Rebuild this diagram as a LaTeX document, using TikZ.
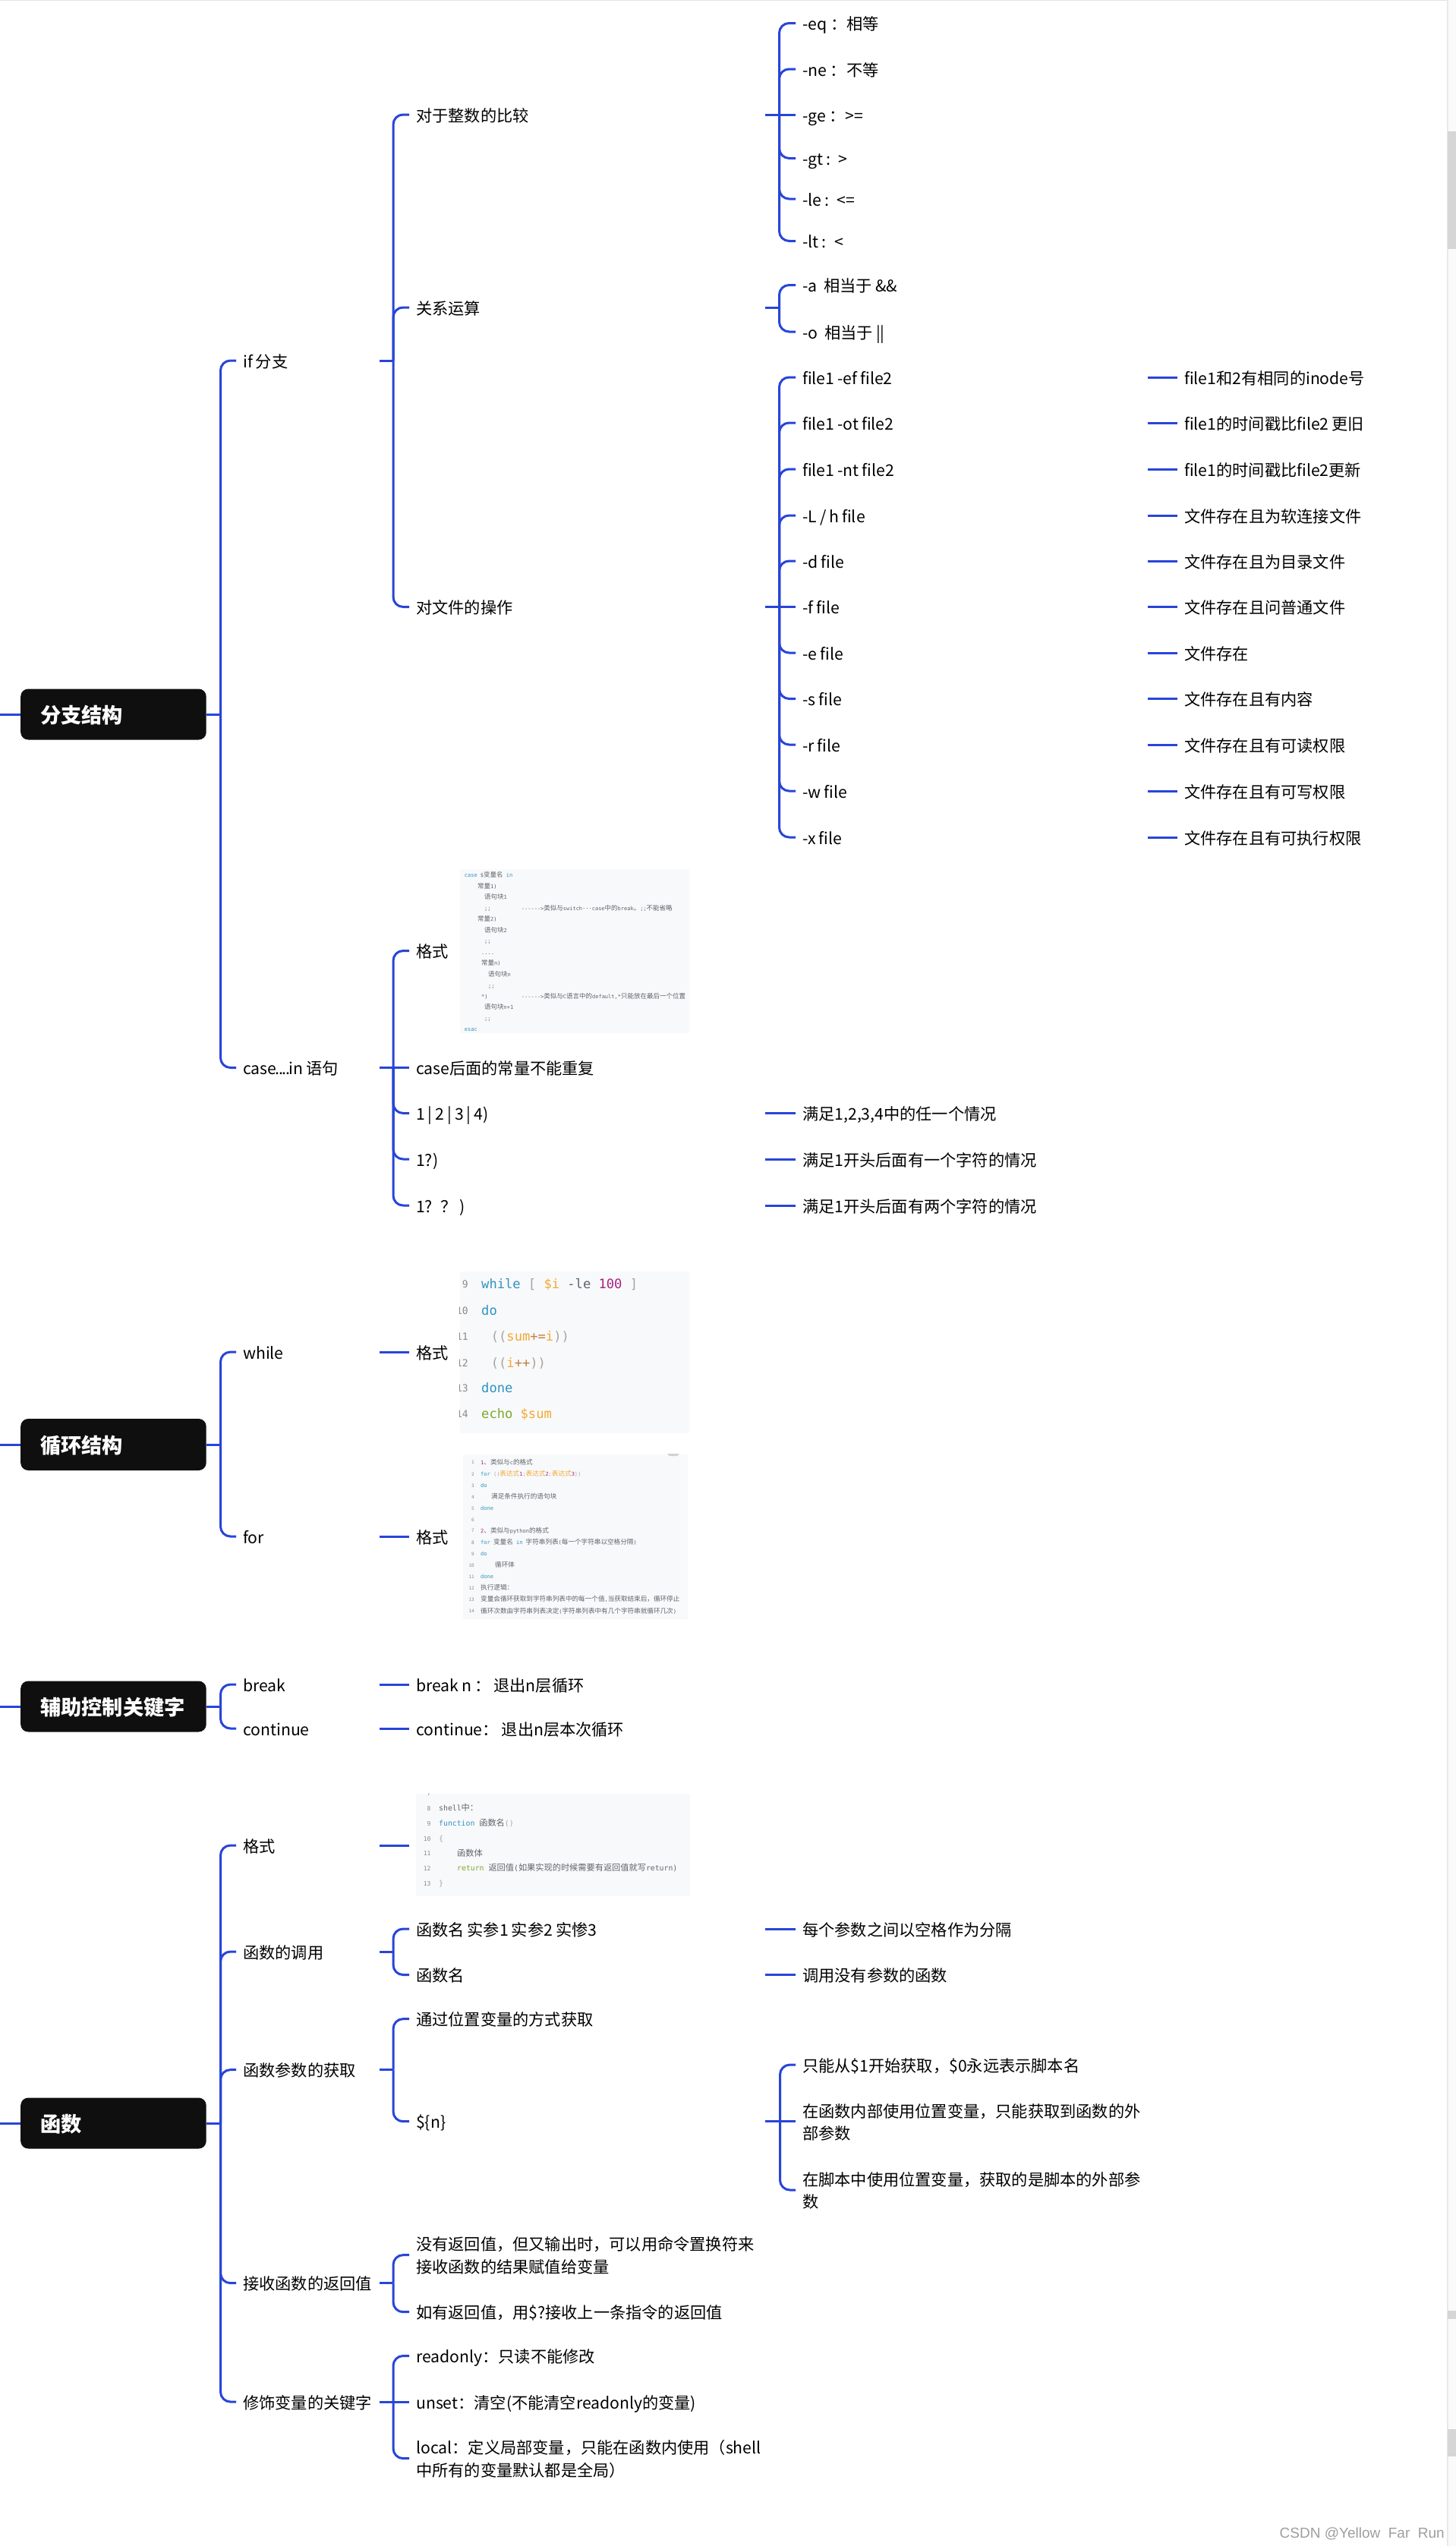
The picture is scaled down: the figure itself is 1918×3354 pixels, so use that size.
\documentclass[tikz,border=0pt]{standalone}
\usepackage{fontspec}
\setmainfont{Noto Sans CJK SC}
\newfontfamily\monoF{DejaVu Sans Mono}
\newfontfamily\cjkF{Noto Sans CJK SC}
\newfontfamily\wmF{Liberation Sans}
\definecolor{bluec}{HTML}{2845D8}
\definecolor{rootc}{HTML}{0F0F0F}
\definecolor{boxc}{HTML}{F8F9FB}
\definecolor{kwc}{HTML}{2E93BE}
\definecolor{orgc}{HTML}{F5A830}
\definecolor{magc}{HTML}{A8207F}
\definecolor{grnc}{HTML}{7FA82C}
\definecolor{grc}{HTML}{5F6468}
\definecolor{brc}{HTML}{A9A49C}
\definecolor{numc}{HTML}{868A8E}
\newcount\clc
\def\csz{8.5}
\newcommand\zh[1]{{\cjkF\fontsize{\csz}{\csz}\selectfont #1}}
\newcommand\kw[1]{\textcolor{kwc}{#1}}
\newcommand\org[1]{\textcolor{orgc}{#1}}
\newcommand\mgt[1]{\textcolor{magc}{#1}}
\newcommand\grn[1]{\textcolor{grnc}{#1}}
\newcommand\brk[1]{\textcolor{brc}{#1}}
\newcommand\cl[4]{\global\advance\clc by 1 \node[#1] (code\the\clc) at (#2,#3) {#4};}
\newcommand\twol[2]{\leavevmode\rlap{\raisebox{14.8pt}{#1}}\rlap{\raisebox{-14.8pt}{#2}}}
\newcommand\fan[3]{%
  \coordinate (hub-#1) at (#2,0 |- #1.east);
  \draw[conn] (#1.east) -- (hub-#1);
  \foreach \k in {#3} {\draw[conn,rounded corners=13pt] (hub-#1) |- (\k.west);}
}
\newcommand\thru[2]{\draw[conn] (hub-#1) -- (hub-#1 -| #2.west);}
\tikzset{
  conn/.style={draw=bluec,line width=3pt},
  lbl/.style={anchor=west,inner ysep=0pt,inner xsep=9pt,text height=19pt,text depth=1pt,
    align=left,text width=#1,font=\fontsize{21.2}{29.6}\selectfont,text=black,
    execute at begin node={\spaceskip=4pt\relax}},
  colA/.style={lbl=171pt},
  colB/.style={lbl=451pt},
  colC/.style={lbl=446pt},
  colD/.style={lbl=300pt},
  rootbox/.style={anchor=west,fill=rootc,rounded corners=10pt,inner ysep=0pt,inner xsep=26pt,
    text width=192.5pt,align=left,text=white,text height=23pt,text depth=1pt,
    minimum height=#1,font=\fontsize{27.2}{30}\selectfont\bfseries},
  imgbox/.style={fill=boxc,inner sep=0pt,anchor=center},
  codeS/.style={anchor=west,inner sep=0pt,text height=6pt,text depth=2pt,text=grc,font=\monoF\fontsize{7}{9}\selectfont},
  codeM/.style={anchor=west,inner sep=0pt,text height=8pt,text depth=3pt,text=grc,font=\monoF\fontsize{9.8}{12}\selectfont},
  codeL/.style={anchor=west,inner sep=0pt,text height=13pt,text depth=4pt,text=grc,font=\monoF\fontsize{17.1}{20}\selectfont},
  numS/.style={anchor=east,inner sep=0pt,text height=4pt,text depth=1pt,text=numc,font=\monoF\fontsize{6}{7}\selectfont},
  numM/.style={anchor=east,inner sep=0pt,text height=6pt,text depth=2pt,text=numc,font=\monoF\fontsize{8}{9}\selectfont},
  numL/.style={anchor=east,inner sep=0pt,text height=9pt,text depth=2pt,text=numc,font=\monoF\fontsize{13}{14}\selectfont},
}
\begin{document}
\begin{tikzpicture}[x=1pt,y=-1pt]
\useasboundingbox (0,0) rectangle (1918,3354);
\fill[white] (0,0) rectangle (1918,3354);
% window furniture
\fill[gray!22] (0,0) rectangle (1918,1.2);
\fill[black!2] (1907,0) rectangle (1918,3354);
\fill[black!9] (1906,0) rectangle (1907.5,3354);
\fill[black!16] (1907,173) rectangle (1918,328);
\fill[black!16] (1907,3044) rectangle (1918,3055);
\fill[black!16] (1907,3200) rectangle (1918,3236);

% roots
\node[rootbox=67pt] (rBranch) at (27,941) {分支结构};
\node[rootbox=68pt] (rLoop) at (27,1903) {循环结构};
\node[rootbox=67pt] (rCtl) at (27,2248) {辅助控制关键字};
\node[rootbox=67pt] (rFunc) at (27,2797) {函数};
\coordinate (l1) at (0,941);
\coordinate (l2) at (0,1903);
\coordinate (l3) at (0,2248);
\coordinate (l4) at (0,2797);
\draw[conn] (l1) -- (rBranch.west);
\draw[conn] (l2) -- (rLoop.west);
\draw[conn] (l3) -- (rCtl.west);
\draw[conn] (l4) -- (rFunc.west);

% branch structure, level A
\node[colA] (ifb) at (311,475) {if 分支};
\node[colA] (caseb) at (311,1406.5) {case\kern-1.5pt.\kern-1.5pt.\kern-1.5pt.\kern-1.5pt.\kern-1.5pt in 语句};
\fan{rBranch}{290.5}{ifb,caseb}
% level B under if
\node[colB] (intcmp) at (539,151) {对于整数的比较};
\node[colB] (relop) at (539,405) {关系运算};
\node[colB] (fileop) at (539,799.5) {对文件的操作};
\fan{ifb}{518}{intcmp,relop,fileop}
% integer comparisons
\node[colC] (eq) at (1048,30.5) {-eq\hspace{4.75pt}：相等};
\node[colC] (ne) at (1048,91) {-ne\hspace{4.75pt}：不等};
\node[colC] (ge) at (1048,151) {-ge\hspace{4.75pt}：>=};
\node[colC] (gt) at (1048,208.5) {-gt : >};
\node[colC] (le) at (1048,262) {-le : <=};
\node[colC] (lt) at (1048,317.5) {-lt : <};
\fan{intcmp}{1026.5}{eq,ne,gt,le,lt}
\thru{intcmp}{ge}
% relation
\node[colC] (opa) at (1048,375.5) {-a\hspace{9pt}相当于 \&\&};
\node[colC] (opo) at (1048,437) {-o\hspace{9pt}相当于 ||};
\fan{relop}{1026.5}{opa,opo}
% file tests
\node[colC] (f1) at (1048,497) {file1 -ef file2};
\node[colC] (f2) at (1048,557) {file1 -ot file2};
\node[colC] (f3) at (1048,618) {file1 -nt file2};
\node[colC] (f4) at (1048,679) {-L / h file};
\node[colC] (f5) at (1048,739) {-d file};
\node[colC] (f6) at (1048,799.5) {-f file};
\node[colC] (f7) at (1048,860) {-e file};
\node[colC] (f8) at (1048,920.5) {-s file};
\node[colC] (f9) at (1048,981) {-r file};
\node[colC] (f10) at (1048,1042) {-w file};
\node[colC] (f11) at (1048,1103) {-x file};
\fan{fileop}{1026.5}{f1,f2,f3,f4,f5,f7,f8,f9,f10,f11}
\thru{fileop}{f6}
\node[colD] (d1) at (1551,497) {file1和2有相同的inode号};
\node[colD] (d2) at (1551,557) {file1的时间戳比file2 更旧};
\node[colD] (d3) at (1551,618) {file1的时间戳比file2更新};
\node[colD] (d4) at (1551,679) {文件存在且为软连接文件};
\node[colD] (d5) at (1551,739) {文件存在且为目录文件};
\node[colD] (d6) at (1551,799.5) {文件存在且问普通文件};
\node[colD] (d7) at (1551,860) {文件存在};
\node[colD] (d8) at (1551,920.5) {文件存在且有内容};
\node[colD] (d9) at (1551,981) {文件存在且有可读权限};
\node[colD] (d10) at (1551,1042) {文件存在且有可写权限};
\node[colD] (d11) at (1551,1103) {文件存在且有可执行权限};
\foreach \i in {1,...,11} {\draw[conn] (f\i.east) -- (d\i.west);}

% case
\node[lbl=48pt] (casefmt) at (539,1252.5) {格式};
\node[colB] (case2) at (539,1406.5) {case后面的常量不能重复};
\node[colB] (case3) at (539,1466.5) {1 | 2 | 3 | 4)};
\node[colB] (case4) at (539,1527) {1?)};
\node[colB] (case5) at (539,1588) {1? ？ )};
\fan{caseb}{518}{casefmt,case3,case4,case5}
\thru{caseb}{case2}
\node[colC] (cr3) at (1048,1466.5) {满足1,2,3,4中的任一个情况};
\node[colC] (cr4) at (1048,1527) {满足1开头后面有一个字符的情况};
\node[colC] (cr5) at (1048,1588) {满足1开头后面有两个字符的情况};
\draw[conn] (case3.east) -- (cr3.west);
\draw[conn] (case4.east) -- (cr4.west);
\draw[conn] (case5.east) -- (cr5.west);

\node[imgbox,minimum width=302pt,minimum height=216pt] (img1) at (757,1253) {};
\def\csz{8.5}
\cl{codeS}{611.7}{1153.3}{\kw{case} \$\zh{变量名} \kw{in}}
\cl{codeS}{629}{1168}{\zh{常量}1)}
\cl{codeS}{638}{1182.7}{\zh{语句块}1}
\cl{codeS}{638}{1197}{;;}
\cl{codeS}{686.7}{1197}{------>\zh{类似与}switch···case\zh{中的}break\zh{。};;\zh{不能省略}}
\cl{codeS}{629}{1211.3}{\zh{常量}2)}
\cl{codeS}{638}{1226}{\zh{语句块}2}
\cl{codeS}{638}{1240.7}{;;}
\cl{codeS}{634}{1255}{....}
\cl{codeS}{634}{1269.3}{\zh{常量}n)}
\cl{codeS}{643}{1284}{\zh{语句块}n}
\cl{codeS}{643}{1299}{;;}
\cl{codeS}{634}{1313}{*)}
\cl{codeS}{686.7}{1313}{------>\zh{类似与}C\zh{语言中的}default,*\zh{只能放在最后一个位置}}
\cl{codeS}{638}{1327.3}{\zh{语句块}n+1}
\cl{codeS}{638}{1342.7}{;;}
\cl{codeS}{611.7}{1356.3}{\kw{esac}}

% loops
\node[colA] (whl) at (311,1781) {while};
\node[colA] (forl) at (311,2024) {for};
\fan{rLoop}{290.5}{whl,forl}
\node[lbl=48pt] (whlfmt) at (539,1781) {格式};
\node[lbl=48pt] (forfmt) at (539,2024) {格式};
\draw[conn] (whl.east) -- (whlfmt.west);
\draw[conn] (forl.east) -- (forfmt.west);

\node[imgbox,minimum width=302pt,minimum height=213pt] (img2) at (757,1781.5) {};
\begin{scope}
\clip (img2.south west) rectangle (img2.north east);
\cl{numL}{617}{1693}{9}
\cl{numL}{617}{1728}{10}
\cl{numL}{617}{1762}{11}
\cl{numL}{617}{1797}{12}
\cl{numL}{617}{1830}{13}
\cl{numL}{617}{1864}{14}
\end{scope}
\cl{codeL}{634}{1693}{\kw{while} \brk{[} \org{\$i} -le \mgt{100} \brk{]}}
\cl{codeL}{634}{1728}{\kw{do}}
\cl{codeL}{646.7}{1762}{\brk{((}\org{sum}\textcolor{brown}{+=}\org{i}\brk{))}}
\cl{codeL}{646.7}{1797}{\brk{((}\org{i}\textcolor{brown}{++}\brk{))}}
\cl{codeL}{634}{1830}{\kw{done}}
\cl{codeL}{634}{1864}{\grn{echo} \org{\$sum}}

\node[imgbox,minimum width=296pt,minimum height=217pt] (img3) at (758,2024.5) {};
\begin{scope}
\clip (img3.south west) rectangle (img3.north east);
\fill[black!18,rounded corners=4pt] (879,1908) rectangle (895,1918);
\end{scope}
\def\csz{8.6}
\cl{numS}{625}{1927.3}{1}
\cl{numS}{625}{1942.7}{2}
\cl{numS}{625}{1957.7}{3}
\cl{numS}{625}{1972.7}{4}
\cl{numS}{625}{1987.7}{5}
\cl{numS}{625}{2002.7}{6}
\cl{numS}{625}{2017.3}{7}
\cl{numS}{625}{2032.7}{8}
\cl{numS}{625}{2047.7}{9}
\cl{numS}{625}{2062.7}{10}
\cl{numS}{625}{2077.7}{11}
\cl{numS}{625}{2092.7}{12}
\cl{numS}{625}{2107.7}{13}
\cl{numS}{625}{2123}{14}
\cl{codeS}{633}{1927.3}{\mgt{1}\zh{、类似与}c\zh{的格式}}
\cl{codeS}{633}{1942.7}{\kw{for} \brk{((}\org{\zh{表达式}}\mgt{1}\brk{;}\org{\zh{表达式}}\mgt{2}\brk{;}\org{\zh{表达式}}\mgt{3}\brk{))}}
\cl{codeS}{633}{1957.7}{\kw{do}}
\cl{codeS}{647}{1972.7}{\zh{满足条件执行的语句块}}
\cl{codeS}{633}{1987.7}{\kw{done}}
\cl{codeS}{633}{2017.3}{\mgt{2}\zh{、类似与}python\zh{的格式}}
\cl{codeS}{633}{2032.7}{\kw{for} \zh{变量名} \kw{in} \zh{字符串列表}(\zh{每一个字符串以空格分隔})}
\cl{codeS}{633}{2047.7}{\kw{do}}
\cl{codeS}{652}{2062.7}{\zh{循环体}}
\cl{codeS}{633}{2077.7}{\kw{done}}
\cl{codeS}{633}{2092.7}{\zh{执行逻辑：}}
\cl{codeS}{633}{2107.7}{\zh{变量会循环获取到字符串列表中的每一个值},\zh{当获取结束后，循环停止}}
\cl{codeS}{633}{2123}{\zh{循环次数由字符串列表决定}(\zh{字符串列表中有几个字符串就循环几次})}

% control keywords
\node[colA] (brk) at (311,2219) {break};
\node[colA] (cont) at (311,2277) {continue};
\fan{rCtl}{290.5}{brk,cont}
\node[colB] (brkd) at (539,2219) {break n ： 退出n层循环};
\node[colB] (contd) at (539,2277) {continue： 退出n层本次循环};
\draw[conn] (brk.east) -- (brkd.west);
\draw[conn] (cont.east) -- (contd.west);

% functions
\node[colA] (ffmt) at (311,2431) {格式};
\node[colA] (fcall) at (311,2571) {函数的调用};
\node[colA] (fparam) at (311,2726.6) {函数参数的获取};
\node[colA] (fret) at (311,3007.6) {接收函数的返回值};
\node[colA] (fmod) at (311,3164) {修饰变量的关键字};
\fan{rFunc}{290.5}{ffmt,fcall,fparam,fret,fmod}

\node[imgbox,minimum width=361pt,minimum height=135pt] (img4) at (728.5,2430.5) {};
\draw[conn,shorten >=9pt] (ffmt.east) -- (img4.west |- ffmt.east);
\begin{scope}
\clip (img4.south west) rectangle (img4.north east);
\cl{numM}{567.7}{2363}{7}
\end{scope}
\def\csz{11.2}
\cl{numM}{567.7}{2383.3}{8}
\cl{numM}{567.7}{2403}{9}
\cl{numM}{567.7}{2423}{10}
\cl{numM}{567.7}{2442.7}{11}
\cl{numM}{567.7}{2462.3}{12}
\cl{numM}{567.7}{2482.3}{13}
\cl{codeM}{578}{2383.3}{shell\zh{中：}}
\cl{codeM}{578}{2403}{\kw{function} \zh{函数名}\brk{()}}
\cl{codeM}{578}{2423}{\brk{\{}}
\cl{codeM}{602}{2442.7}{\zh{函数体}}
\cl{codeM}{602}{2462.3}{\grn{return} \zh{返回值}(\zh{如果实现的时候需要有返回值就写}return)}
\cl{codeM}{578}{2482.3}{\brk{\}}}

\node[colB] (call1) at (539,2541) {函数名 实参1 实参2 实惨3};
\node[colB] (call2) at (539,2601.5) {函数名};
\fan{fcall}{518}{call1,call2}
\node[colC] (cr1) at (1048,2541) {每个参数之间以空格作为分隔};
\node[colC] (cr2) at (1048,2601.5) {调用没有参数的函数};
\draw[conn] (call1.east) -- (cr1.west);
\draw[conn] (call2.east) -- (cr2.west);

\node[colB] (par1) at (539,2659.6) {通过位置变量的方式获取};
\node[colB] (par2) at (539,2794.7) {\$\{n\}};
\fan{fparam}{518}{par1,par2}
\node[colC] (pr1) at (1048,2720) {只能从\$1开始获取，\$0永远表示脚本名};
\node[colC] (pr2) at (1048,2795) {\twol{在函数内部使用位置变量，只能获取到函数的外}{部参数}};
\node[colC] (pr3) at (1048,2885) {\twol{在脚本中使用位置变量，获取的是脚本的外部参}{数}};
\fan{par2}{1027.5}{pr1,pr3}
\thru{par2}{pr2}

\node[colB] (ret1) at (539,2970.6) {\twol{没有返回值，但又输出时，可以用命令置换符来}{接收函数的结果赋值给变量}};
\node[colB] (ret2) at (539,3045.7) {如有返回值，用\$?接收上一条指令的返回值};
\fan{fret}{518}{ret1,ret2}

\node[colB] (mod1) at (539,3103.5) {readonly：只读不能修改};
\node[colB] (mod2) at (539,3164) {unset：清空(不能清空readonly的变量)};
\node[colB] (mod3) at (539,3238.6) {\twol{local：定义局部变量，只能在函数内使用（shell}{中所有的变量默认都是全局）}};
\fan{fmod}{518}{mod1,mod3}
\thru{fmod}{mod2}

\node[anchor=east,inner sep=0pt,text=black!38,font=\wmF\fontsize{19}{21}\selectfont] (wm) at (1903,3338) {CSDN @Yellow~~Far~~Run};
\end{tikzpicture}
\end{document}
